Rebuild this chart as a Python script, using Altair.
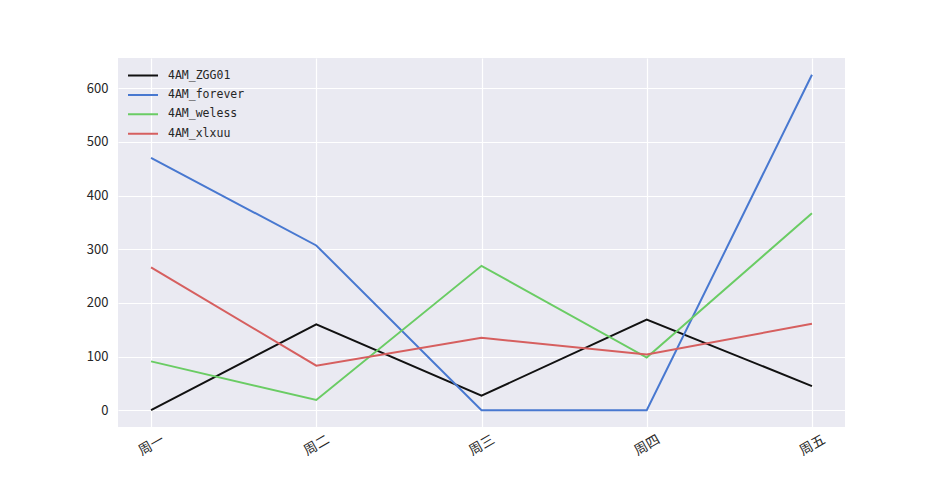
import altair as alt
import pandas as pd

days = ["周一", "周二", "周三", "周四", "周五"]
names = ["4AM_ZGG01", "4AM_forever", "4AM_weless", "4AM_xlxuu"]
zgg01 = [0, 160, 27, 169, 45]
forever = [470, 307, 0, 0, 625]
weless = [91, 19, 269, 98, 367]
xlxuu = [266, 83, 135, 104, 161]
colors = ["#111111", "#4878d0", "#6acc64", "#d65f5f"]

series = [zgg01, forever, weless, xlxuu]
rows = []
for n, vals in zip(names, series):
    for i, (d, v) in enumerate(zip(days, vals)):
        rows.append({"day": d, "player": n, "value": v, "order": i})
df = pd.DataFrame(rows)

chart = alt.Chart(df).mark_line(strokeWidth=2).encode(
    x=alt.X("day:N", sort=days,
            scale=alt.Scale(type="point", padding=0.2),
            axis=alt.Axis(title=None, labelAngle=330, labelAlign="center",
                          labelBaseline="middle", labelPadding=18,
                          labelFont="Noto Sans CJK SC", labelFontSize=13.5,
                          labelColor="#262626", ticks=False, domain=False,
                          grid=True, gridColor="white", gridWidth=1.2)),
    y=alt.Y("value:Q",
            scale=alt.Scale(domain=[-31.25, 656.25], nice=False, zero=False),
            axis=alt.Axis(title=None, values=[0, 100, 200, 300, 400, 500, 600],
                          labelFont="Noto Sans CJK SC", labelFontSize=13,
                          labelColor="#262626", labelPadding=10,
                          ticks=False, domain=False,
                          grid=True, gridColor="white", gridWidth=1.2)),
    color=alt.Color("player:N", sort=names,
                    scale=alt.Scale(domain=names, range=colors),
                    legend=alt.Legend(title=None, orient="none", legendX=9, legendY=8,
                                      symbolType="stroke", symbolSize=900,
                                      symbolStrokeWidth=2, labelOffset=9,
                                      clipHeight=19,
                                      labelFont="DejaVu Sans Mono", labelFontSize=11.5,
                                      labelColor="#262626", rowPadding=0.4)),
    order="order:Q",
).properties(
    width=727, height=369,
    background="white",
    padding={"left": 110, "top": 50, "right": 86, "bottom": 45},
    autosize=alt.AutoSizeParams(type="none"),
).configure_view(fill="#eaeaf2", stroke=None)

chart.save("out.html", embed_options={"renderer": "svg", "actions": False})
